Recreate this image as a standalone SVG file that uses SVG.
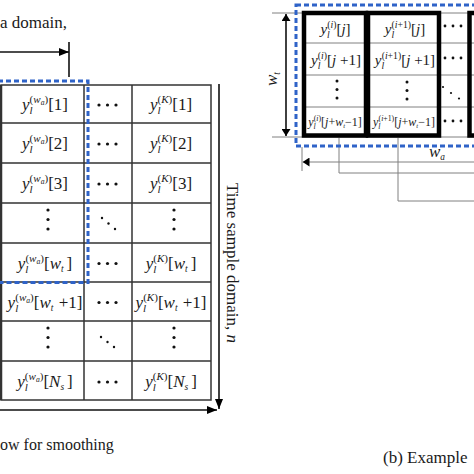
<svg xmlns="http://www.w3.org/2000/svg" width="474" height="474" viewBox="0 0 474 474">
<defs>
<style>
.ln{stroke:#333;stroke-width:1.5;fill:none}
.thin{stroke:#808080;stroke-width:1;fill:none}
.ar{stroke:#111;stroke-width:1.6;fill:none}
.blue{stroke:#2f63c8;stroke-width:3;stroke-dasharray:5 3;fill:none}
.thick{stroke:#000;stroke-width:4.5;fill:none}
.t{font-family:"Liberation Serif","Times New Roman","DejaVu Serif",serif;font-size:17px;fill:#1a1a1a}
.cap{font-size:16px}
.m{text-anchor:middle}
.r{font-size:15px}
.r4{font-size:12px}
.i{font-style:italic}
.s{font-size:0.65em}
.ss{font-size:0.45em}
.st{font-size:0.55em}
.d{fill:#111}
</style>
<marker id="ah" markerWidth="10" markerHeight="8" refX="10" refY="4" orient="auto-start-reverse" markerUnits="userSpaceOnUse"><path d="M0,0 L10,4 L0,8 z" fill="#000"/></marker>
<marker id="ahs" markerWidth="7" markerHeight="9" refX="7" refY="4.5" orient="auto-start-reverse" markerUnits="userSpaceOnUse"><path d="M0,0 L7,4.5 L0,9 z" fill="#000"/></marker>
</defs>
<rect width="474" height="474" fill="#fff"/>

<!-- (a) left panel -->
<text class="t" x="0" y="28">a domain,</text>

<g id="connectors">
<line class="ar" x1="-2" y1="52" x2="69" y2="52" marker-end="url(#ah)"/>
<line class="ar" x1="69" y1="42" x2="69" y2="77"/>
<line class="ar" x1="219" y1="84" x2="219" y2="409" marker-end="url(#ah)"/>
<line class="ar" x1="-2" y1="410" x2="217" y2="410" marker-end="url(#ah)"/>
<line class="ar" x1="286" y1="14" x2="286" y2="136" marker-start="url(#ahs)" marker-end="url(#ahs)"/>
<path class="thin" d="M302,147 V171 M476,162 H302.5" marker-end="url(#ahs)"/>
<path class="thin" d="M339,138 V173 H476 M398,138 V201 H476"/>
</g>

<g id="left-table">
<rect class="ln" x="1" y="85" width="210" height="315"/>
<line x1="1" y1="85" x2="1" y2="400" stroke="#333" stroke-width="2.5"/>
<path class="ln" d="M84,85 V400 M132,85 V400 M1,123 H211 M1,163 H211 M1,203 H211 M1,243 H211 M1,282 H211 M1,321 H211 M1,361 H211"/>

<text class="t m" x="45" y="110"><tspan class="i">y</tspan><tspan class="s i" dy="4">l</tspan><tspan class="s" dx="-3" dy="-11">(</tspan><tspan class="s i">w</tspan><tspan class="ss i" dy="2">a</tspan><tspan class="s" dy="-2">)</tspan><tspan dy="7">[1]</tspan></text>
<text class="t m" x="45" y="149"><tspan class="i">y</tspan><tspan class="s i" dy="4">l</tspan><tspan class="s" dx="-3" dy="-11">(</tspan><tspan class="s i">w</tspan><tspan class="ss i" dy="2">a</tspan><tspan class="s" dy="-2">)</tspan><tspan dy="7">[2]</tspan></text>
<text class="t m" x="45" y="189"><tspan class="i">y</tspan><tspan class="s i" dy="4">l</tspan><tspan class="s" dx="-3" dy="-11">(</tspan><tspan class="s i">w</tspan><tspan class="ss i" dy="2">a</tspan><tspan class="s" dy="-2">)</tspan><tspan dy="7">[3]</tspan></text>
<text class="t m" x="45" y="268.5"><tspan class="i">y</tspan><tspan class="s i" dy="4">l</tspan><tspan class="s" dx="-3" dy="-11">(</tspan><tspan class="s i">w</tspan><tspan class="ss i" dy="2">a</tspan><tspan class="s" dy="-2">)</tspan><tspan dy="7">[</tspan><tspan class="i">w</tspan><tspan class="st i" dy="3">t</tspan><tspan dx="3" dy="-3">]</tspan></text>
<text class="t m" x="45" y="307.5"><tspan class="i">y</tspan><tspan class="s i" dy="4">l</tspan><tspan class="s" dx="-3" dy="-11">(</tspan><tspan class="s i">w</tspan><tspan class="ss i" dy="2">a</tspan><tspan class="s" dy="-2">)</tspan><tspan dy="7">[</tspan><tspan class="i">w</tspan><tspan class="st i" dy="3">t</tspan><tspan dx="1" dy="-3"> +1]</tspan></text>
<text class="t m" x="45" y="386.5"><tspan class="i">y</tspan><tspan class="s i" dy="4">l</tspan><tspan class="s" dx="-3" dy="-11">(</tspan><tspan class="s i">w</tspan><tspan class="ss i" dy="2">a</tspan><tspan class="s" dy="-2">)</tspan><tspan dy="7">[</tspan><tspan class="i">N</tspan><tspan class="st i" dy="3">s</tspan><tspan dx="3" dy="-3">]</tspan></text>

<text class="t m" x="171" y="110"><tspan class="i">y</tspan><tspan class="s i" dy="4">l</tspan><tspan class="s" dx="-3" dy="-11">(</tspan><tspan class="s i">K</tspan><tspan class="s">)</tspan><tspan dy="7">[1]</tspan></text>
<text class="t m" x="171" y="149"><tspan class="i">y</tspan><tspan class="s i" dy="4">l</tspan><tspan class="s" dx="-3" dy="-11">(</tspan><tspan class="s i">K</tspan><tspan class="s">)</tspan><tspan dy="7">[2]</tspan></text>
<text class="t m" x="171" y="189"><tspan class="i">y</tspan><tspan class="s i" dy="4">l</tspan><tspan class="s" dx="-3" dy="-11">(</tspan><tspan class="s i">K</tspan><tspan class="s">)</tspan><tspan dy="7">[3]</tspan></text>
<text class="t m" x="171" y="268.5"><tspan class="i">y</tspan><tspan class="s i" dy="4">l</tspan><tspan class="s" dx="-3" dy="-11">(</tspan><tspan class="s i">K</tspan><tspan class="s">)</tspan><tspan dy="7">[</tspan><tspan class="i">w</tspan><tspan class="st i" dy="3">t</tspan><tspan dx="3" dy="-3">]</tspan></text>
<text class="t m" x="171" y="307.5"><tspan class="i">y</tspan><tspan class="s i" dy="4">l</tspan><tspan class="s" dx="-3" dy="-11">(</tspan><tspan class="s i">K</tspan><tspan class="s">)</tspan><tspan dy="7">[</tspan><tspan class="i">w</tspan><tspan class="st i" dy="3">t</tspan><tspan dx="1" dy="-3"> +1]</tspan></text>
<text class="t m" x="171" y="386.5"><tspan class="i">y</tspan><tspan class="s i" dy="4">l</tspan><tspan class="s" dx="-3" dy="-11">(</tspan><tspan class="s i">K</tspan><tspan class="s">)</tspan><tspan dy="7">[</tspan><tspan class="i">N</tspan><tspan class="st i" dy="3">s</tspan><tspan dx="3" dy="-3">]</tspan></text>

<g class="d">
<circle cx="99" cy="105" r="1.6"/><circle cx="107.5" cy="105" r="1.6"/><circle cx="116" cy="105" r="1.6"/>
<circle cx="99" cy="144" r="1.6"/><circle cx="107.5" cy="144" r="1.6"/><circle cx="116" cy="144" r="1.6"/>
<circle cx="99" cy="184" r="1.6"/><circle cx="107.5" cy="184" r="1.6"/><circle cx="116" cy="184" r="1.6"/>
<circle cx="99" cy="263.5" r="1.6"/><circle cx="107.5" cy="263.5" r="1.6"/><circle cx="116" cy="263.5" r="1.6"/>
<circle cx="99" cy="302.5" r="1.6"/><circle cx="107.5" cy="302.5" r="1.6"/><circle cx="116" cy="302.5" r="1.6"/>
<circle cx="99" cy="382" r="1.6"/><circle cx="107.5" cy="382" r="1.6"/><circle cx="116" cy="382" r="1.6"/>
<circle cx="48" cy="210" r="1.6"/><circle cx="48" cy="219.5" r="1.6"/><circle cx="48" cy="229" r="1.6"/>
<circle cx="174" cy="210" r="1.6"/><circle cx="174" cy="219.5" r="1.6"/><circle cx="174" cy="229" r="1.6"/>
<circle cx="48" cy="328" r="1.6"/><circle cx="48" cy="337.5" r="1.6"/><circle cx="48" cy="347" r="1.6"/>
<circle cx="174" cy="328" r="1.6"/><circle cx="174" cy="337.5" r="1.6"/><circle cx="174" cy="347" r="1.6"/>
<circle cx="102" cy="218" r="1.2"/><circle cx="108.5" cy="223.5" r="1.2"/><circle cx="115" cy="229" r="1.2"/>
<circle cx="101" cy="337" r="1.2"/><circle cx="107.5" cy="342" r="1.2"/><circle cx="114" cy="347" r="1.2"/>
</g>
<rect class="blue" x="-10" y="81" width="98" height="201.5"/>
</g>

<text class="t" transform="translate(227,183) rotate(90)">Time sample domain, <tspan class="i">n</tspan></text>
<text class="t cap" x="0" y="450">ow for smoothing</text>

<!-- (b) right panel -->
<g id="right-table">
<path class="thin" d="M272,13 H476 M272,137 H476 M304,43 H476 M304,75 H476 M304,107 H476"/>
<rect class="thick" x="304" y="13" width="62" height="122.5"/>
<rect class="thick" x="368" y="13" width="71" height="122.5"/>
<rect class="thick" x="469.5" y="13" width="30" height="122.5"/>

<text class="t r m" x="335.5" y="34"><tspan class="i">y</tspan><tspan class="s i" dy="3.5">l</tspan><tspan class="s" dx="-2.6" dy="-9.5">(</tspan><tspan class="s i">i</tspan><tspan class="s">)</tspan><tspan dy="6">[</tspan><tspan class="i">j</tspan><tspan>]</tspan></text>
<text class="t r m" x="405" y="34"><tspan class="i">y</tspan><tspan class="s i" dy="3.5">l</tspan><tspan class="s" dx="-2.6" dy="-9.5">(</tspan><tspan class="s i">i</tspan><tspan class="s">+1)</tspan><tspan dy="6">[</tspan><tspan class="i">j</tspan><tspan>]</tspan></text>
<text class="t r m" x="336" y="65"><tspan class="i">y</tspan><tspan class="s i" dy="3.5">l</tspan><tspan class="s" dx="-2.6" dy="-9.5">(</tspan><tspan class="s i">i</tspan><tspan class="s">)</tspan><tspan dy="6">[</tspan><tspan class="i">j</tspan><tspan> +1]</tspan></text>
<text class="t r m" x="405" y="65"><tspan class="i">y</tspan><tspan class="s i" dy="3.5">l</tspan><tspan class="s" dx="-2.6" dy="-9.5">(</tspan><tspan class="s i">i</tspan><tspan class="s">+1)</tspan><tspan dy="6">[</tspan><tspan class="i">j</tspan><tspan> +1]</tspan></text>
<text class="t r4 m" x="335" y="126"><tspan class="i">y</tspan><tspan class="s i" dy="3">l</tspan><tspan class="s" dx="-2" dy="-8">(</tspan><tspan class="s i">i</tspan><tspan class="s">)</tspan><tspan dy="5">[</tspan><tspan class="i">j</tspan><tspan>+</tspan><tspan class="i">w</tspan><tspan class="st i" dy="2">t</tspan><tspan dy="-2">−1]</tspan></text>
<text class="t r4 m" x="404" y="126"><tspan class="i">y</tspan><tspan class="s i" dy="3">l</tspan><tspan class="s" dx="-2" dy="-8">(</tspan><tspan class="s i">i</tspan><tspan class="s">+1)</tspan><tspan dy="5">[</tspan><tspan class="i">j</tspan><tspan>+</tspan><tspan class="i">w</tspan><tspan class="st i" dy="2">t</tspan><tspan dy="-2">−1]</tspan></text>

<g class="d">
<circle cx="337" cy="81" r="1.5"/><circle cx="337" cy="89.5" r="1.5"/><circle cx="337" cy="98" r="1.5"/>
<circle cx="407" cy="82" r="1.5"/><circle cx="407" cy="90.5" r="1.5"/><circle cx="407" cy="99" r="1.5"/>
<circle cx="445" cy="26" r="1.4"/><circle cx="453" cy="26" r="1.4"/><circle cx="461" cy="26" r="1.4"/>
<circle cx="445" cy="58" r="1.4"/><circle cx="453" cy="58" r="1.4"/><circle cx="461" cy="58" r="1.4"/>
<circle cx="445" cy="121" r="1.4"/><circle cx="453" cy="121" r="1.4"/><circle cx="461" cy="121" r="1.4"/>
<circle cx="443" cy="87" r="1.1"/><circle cx="451" cy="93" r="1.1"/><circle cx="459" cy="98.5" r="1.1"/>
</g>
<rect class="blue" x="296" y="5" width="200" height="141"/>
</g>

<text class="t" transform="translate(277,86) rotate(-90)"><tspan class="i">w</tspan><tspan class="st i" dy="3">t</tspan></text>
<text class="t" x="429" y="157"><tspan class="i">w</tspan><tspan class="st i" dy="3">a</tspan></text>
<text class="t" x="383" y="463">(b) Example</text>
</svg>
